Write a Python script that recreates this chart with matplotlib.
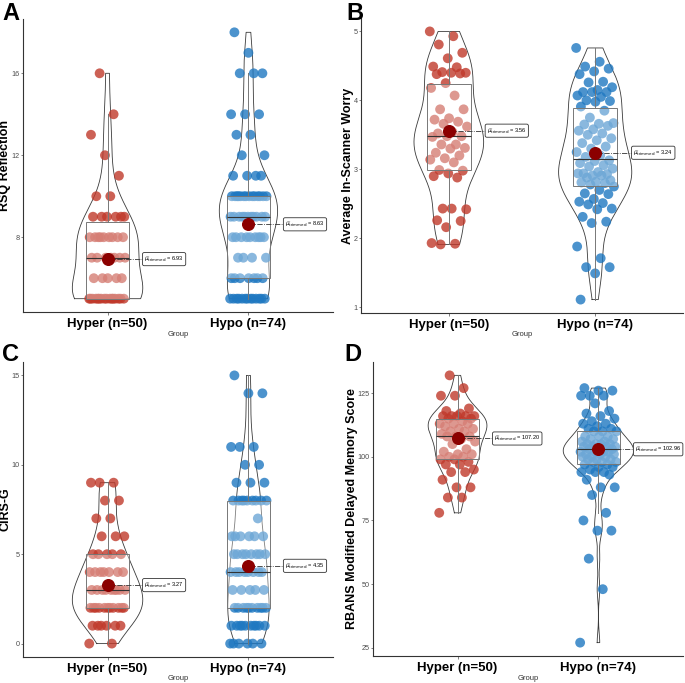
import matplotlib
matplotlib.use("Agg")
import matplotlib.pyplot as plt
import numpy as np

plt.rcParams['font.family'] = ['Liberation Sans', 'DejaVu Sans']
plt.rcParams['mathtext.fontset'] = 'dejavusans'

# ---------------- data ----------------
groups = ['Hyper (n=50)', 'Hypo (n=74)']
group_colors = ['#C0392B', '#1F78C1']

# A: RSQ Reflection (integer scores, value -> count)
rsq_hyper_counts = {5: 16, 6: 5, 7: 7, 8: 9, 9: 6, 10: 2, 11: 1, 12: 1, 13: 1, 14: 1, 16: 1}
rsq_hypo_counts = {5: 13, 6: 7, 7: 4, 8: 9, 9: 11, 10: 14, 11: 4, 12: 2, 13: 2,
                   14: 3, 16: 3, 17: 1, 18: 1}

# B: Average In-Scanner Worry
worry_hyper = [5.00, 4.93, 4.81, 4.69, 4.61, 4.49, 4.48, 4.41, 4.40, 4.40, 4.38, 4.39,
               4.25, 4.18, 4.07, 3.87, 3.87, 3.74, 3.72, 3.69, 3.66, 3.62, 3.54, 3.52,
               3.48, 3.48, 3.47, 3.36, 3.36, 3.31, 3.30, 3.24, 3.20, 3.16, 3.14, 3.10,
               2.99, 2.98, 2.94, 2.90, 2.88, 2.43, 2.42, 2.43, 2.26, 2.25, 2.16, 1.93,
               1.92, 1.91]
worry_hypo = [4.76, 4.56, 4.49, 4.46, 4.42, 4.38, 4.27, 4.26, 4.19, 4.15, 4.12, 4.12,
              4.12, 4.07, 4.05, 4.00, 3.99, 3.98, 3.91, 3.85, 3.75, 3.67, 3.66, 3.65,
              3.63, 3.58, 3.56, 3.52, 3.50, 3.45, 3.42, 3.38, 3.33, 3.30, 3.25, 3.20,
              3.18, 3.13, 3.12, 3.09, 3.06, 3.04, 3.01, 2.96, 2.94, 2.93, 2.91, 2.94,
              2.91, 2.88, 2.84, 2.82, 2.81, 2.80, 2.78, 2.75, 2.70, 2.65, 2.64, 2.57,
              2.53, 2.51, 2.49, 2.43, 2.42, 2.31, 2.24, 2.22, 1.88, 1.71, 1.58, 1.58,
              1.49, 1.11]

# C: CIRS-G (integer scores, value -> count)
cirs_hyper_counts = {0: 2, 1: 6, 2: 11, 3: 9, 4: 7, 5: 5, 6: 3, 7: 2, 8: 2, 9: 3}
cirs_hypo_counts = {0: 6, 1: 10, 2: 10, 3: 5, 4: 8, 5: 8, 6: 6, 7: 1, 8: 9, 9: 3,
                    10: 2, 11: 3, 14: 2, 15: 1}

# D: RBANS Modified Delayed Memory Score
rbans_hyper = [78, 84, 84, 88, 88, 91, 94, 94, 95, 97, 97, 98, 99, 99, 100, 100, 101,
               101, 102, 103, 105, 106, 107, 108, 108, 108, 109, 110, 110, 111, 111,
               112, 113, 113, 113, 114, 115, 115, 116, 116, 116, 116, 116, 117, 118,
               119, 124, 124, 127, 132]
rbans_hypo = [27, 48, 60, 71, 71, 75, 78, 85, 88, 88, 91, 93, 94, 94, 94, 95, 96, 96,
              97, 97, 98, 98, 98, 99, 99, 99, 100, 100, 100, 101, 101, 101, 102, 102,
              102, 102, 103, 103, 103, 104, 104, 104, 104, 105, 105, 105, 105, 106,
              106, 107, 107, 108, 108, 108, 110, 110, 110, 111, 111, 112, 113, 113,
              114, 115, 116, 117, 118, 121, 124, 124, 124, 126, 126, 127]

# trimmed means printed in the labels
trimmed_means = {'A': [6.93, 8.63], 'B': [3.56, 3.24], 'C': [3.27, 4.35], 'D': [107.20, 102.96]}


def expand(counts):
    vals = []
    for v, c in counts.items():
        vals += [v] * c
    return np.array(vals, dtype=float)


def nrd0(x):
    sd = np.std(x, ddof=1)
    iqr = np.subtract(*np.percentile(x, [75, 25]))
    lo = min(sd, iqr / 1.34) if iqr > 0 else sd
    return 0.9 * lo * len(x) ** -0.2


def kde(x, grid):
    bw = nrd0(x)
    z = (grid[:, None] - x[None, :]) / bw
    return np.exp(-0.5 * z ** 2).sum(axis=1) / (len(x) * bw * np.sqrt(2 * np.pi))


def jitter_offsets(n, width=0.13):
    # deterministic low-discrepancy spread instead of random jitter
    return ((np.arange(n) * 0.6180339887) % 1.0 - 0.5) * 2 * width


def panel(ax, data, means, ylabel, yticks, ylab_x):
    grids, dens = [], []
    for x in data:
        g = np.linspace(x.min(), x.max(), 512)
        grids.append(g)
        dens.append(kde(x, g))
    dmax = max(d.max() for d in dens)

    for i, x in enumerate(data):
        pos = i + 1
        w = 0.25 * dens[i] / dmax
        g = grids[i]
        vx = np.concatenate([pos - w, (pos + w)[::-1], [pos - w[0]]])
        vy = np.concatenate([g, g[::-1], [g[0]]])
        ax.plot(vx, vy, color='#3a3a3a', lw=0.6, zorder=1)

        ax.scatter(pos + jitter_offsets(len(x)), x, s=50, color=group_colors[i],
                   alpha=0.8, edgecolors='none', zorder=2)

    bp = ax.boxplot(data, positions=[1, 2], widths=0.3, showfliers=False,
                    showcaps=False, patch_artist=True, whis=1.5, zorder=3)
    for b in bp['boxes']:
        b.set_facecolor((1, 1, 1, 0.35))
        b.set_edgecolor('#777777')
        b.set_linewidth(0.7)
    for wl in bp['whiskers']:
        wl.set_color('#777777')
        wl.set_linewidth(0.7)
    for md in bp['medians']:
        md.set_color('#333333')
        md.set_linewidth(0.8)

    for i, m in enumerate(means):
        pos = i + 1
        ax.plot([pos, pos + 0.25], [m, m], ls='-.', color='#333333', lw=0.6, zorder=4)
        ax.scatter([pos], [m], s=70, color='#8B0000', zorder=5)
        ax.text(pos + 0.26, m, r'$\widehat{\mu}_{\mathrm{trimmed}}$' + ' = %.2f' % m,
                fontsize=4.1, va='center', ha='left', zorder=6,
                bbox=dict(boxstyle='round,pad=0.3,rounding_size=0.3', fc='white',
                          ec='#333333', lw=0.6))

    allv = np.concatenate(data)
    lo, hi = allv.min(), allv.max()
    pad = 0.05 * (hi - lo)
    ax.set_ylim(lo - pad, hi + pad)
    ax.set_xlim(0.4, 2.6)
    ax.set_xticks([1, 2])
    ax.set_xticklabels(groups, fontsize=9.5, fontweight='bold')
    ax.set_yticks(yticks)
    ax.tick_params(axis='y', labelsize=5.2, labelcolor='#4d4d4d', length=1.5, width=0.5,
                   pad=0.8, color='#4d4d4d')
    ax.tick_params(axis='x', length=2, width=0.5, pad=2, color='#4d4d4d')
    ax.set_ylabel(ylabel, fontsize=9, fontweight='bold', va='center')
    ax.yaxis.set_label_coords(ylab_x, 0.5)
    ax.set_xlabel('Group', fontsize=5.5, color='#333333', va='center')
    bbox = ax.get_position()
    ax.xaxis.set_label_coords(0.5, -22.0 / (bbox.height * 683))
    for s in ['top', 'right']:
        ax.spines[s].set_visible(False)
    for s in ['left', 'bottom']:
        ax.spines[s].set_color('#333333')
        ax.spines[s].set_linewidth(0.8)
    ax.set_facecolor('white')


fig = plt.figure(figsize=(6.85, 6.83), dpi=100)
W, H = 685.0, 683.0


def add_ax(l, r, b, t):
    return fig.add_axes([l / W, 1 - b / H, (r - l) / W, (b - t) / H])


axA = add_ax(23, 333, 312, 19)
axB = add_ax(361, 683, 313, 18)
axC = add_ax(23, 333, 657, 362)
axD = add_ax(373, 683, 656, 362)

panel(axA, [expand(rsq_hyper_counts), expand(rsq_hypo_counts)], trimmed_means['A'],
      'RSQ Reflection', [8, 12, 16], -17.5 / 310)
panel(axB, [np.array(worry_hyper), np.array(worry_hypo)], trimmed_means['B'],
      'Average In-Scanner Worry', [1, 2, 3, 4, 5], -12.5 / 322)
panel(axC, [expand(cirs_hyper_counts), expand(cirs_hypo_counts)], trimmed_means['C'],
      'CIRS-G', [0, 5, 10, 15], -17.5 / 310)
panel(axD, [np.array(rbans_hyper, float), np.array(rbans_hypo, float)], trimmed_means['D'],
      'RBANS Modified Delayed Memory Score', [25, 50, 75, 100, 125], -20.5 / 310)

for letter, (px, py) in zip('ABCD', [(2, 2), (346, 2), (2, 343), (344, 343)]):
    fig.text(px / W, 1 - py / H, letter, fontsize=17, fontweight='bold', va='top', ha='left')

fig.savefig('out.png', dpi=100, facecolor='white')
